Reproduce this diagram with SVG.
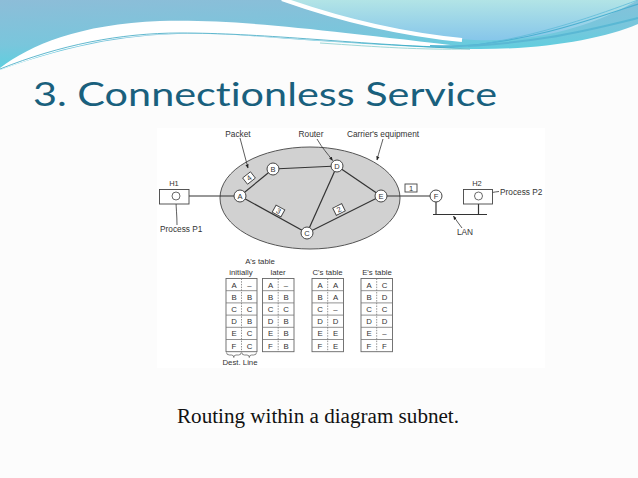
<svg xmlns="http://www.w3.org/2000/svg" width="638" height="478" viewBox="0 0 638 478">
<defs>
<linearGradient id="gBlue" x1="0" y1="0" x2="0.3" y2="1">
<stop offset="0" stop-color="#8dbdd8"/>
<stop offset="0.6" stop-color="#79c6dc"/>
<stop offset="1" stop-color="#55d2e0"/>
</linearGradient>
<linearGradient id="gLight" x1="0" y1="0" x2="0" y2="1">
<stop offset="0" stop-color="#b2e4e6"/>
<stop offset="1" stop-color="#86c6ea"/>
</linearGradient>
<marker id="ah" viewBox="0 0 10 10" refX="9" refY="5" markerWidth="5" markerHeight="5" orient="auto">
<path d="M0,1 L10,5 L0,9 Z" fill="#222"/>
</marker>
<style>
.t{font-family:"Liberation Sans",Arial,sans-serif;font-size:8.3px;fill:#333}
.n{font-family:"Liberation Sans",Arial,sans-serif;font-size:7.5px;fill:#333;text-anchor:middle}
.c{font-family:"Liberation Sans",Arial,sans-serif;font-size:7.8px;fill:#333;text-anchor:middle}
.ln{stroke:#333;stroke-width:1.2;fill:none}
.nd{fill:#fff;stroke:#444;stroke-width:1}
.pk{fill:#fff;stroke:#444;stroke-width:0.9}
.ptr{stroke:#333;stroke-width:0.8;fill:none;marker-end:url(#ah)}
.tb{fill:#fff;stroke:#666;stroke-width:0.9}
.rl{stroke:#777;stroke-width:0.8}
.dl{stroke:#777;stroke-width:0.8;stroke-dasharray:1.5 1.2}
</style>
</defs>
<rect x="0" y="0" width="638" height="478" fill="#fcfcfc"/>
<g id="header">
<path d="M0,0 L638,0 L638,24 C600,40 540,50 470,49 C400,47 330,42 250,36 C170,30 100,34 0,70 Z" fill="url(#gBlue)"/>
<path d="M0,68 C30,45 80,24 160,21 C240,19 320,30 470,47 C380,46 300,38 220,34 C140,31 80,40 0,70 Z" fill="#ffffff"/>
<path d="M0,69 C60,45 120,33 180,33 C260,33 340,43 470,49" fill="none" stroke="#3aa6c2" stroke-width="0.8"/>
<path d="M320,43 C380,47 420,50 470,49" fill="none" stroke="#9fd8d8" stroke-width="1"/>
<path d="M283,0 C330,16 390,33 460,39 C540,46 600,22 638,0 Z" fill="url(#gLight)"/>
<path d="M282,-1 C330,16 390,33 462,40" fill="none" stroke="#ffffff" stroke-width="4"/>
<path d="M450,47 C530,42 590,20 638,4" fill="none" stroke="#4cb0d0" stroke-width="1.2"/>
<path d="M470,46 C540,36 600,14 638,0" fill="none" stroke="#5ebbd8" stroke-width="0.8"/>
<path d="M430,46 C520,48 590,30 638,18" fill="none" stroke="#5ab8d4" stroke-width="2"/>
</g>
<g id="title">
<text x="33" y="106" font-family="Lato,'Open Sans','Liberation Sans',sans-serif" font-size="33" fill="#19607d" style="font-variant-ligatures:none" textLength="464" lengthAdjust="spacingAndGlyphs">3.  Connectionless Service</text>
</g>
<rect x="157" y="128" width="388" height="240" fill="#ffffff"/>
<g id="subnet">
<ellipse cx="310" cy="198" rx="90" ry="51" fill="#d1d1d1" stroke="#555" stroke-width="1"/>
</g>
<g id="connectors">
<line class="ln" x1="189" y1="196" x2="234" y2="196"/>
<line class="ln" x1="240" y1="196" x2="273" y2="169"/>
<line class="ln" x1="273" y1="169" x2="337" y2="166"/>
<line class="ln" x1="240" y1="196" x2="307" y2="233"/>
<line class="ln" x1="337" y1="166" x2="307" y2="233"/>
<line class="ln" x1="337" y1="166" x2="381" y2="196"/>
<line class="ln" x1="307" y1="233" x2="381" y2="196"/>
<line class="ln" x1="381" y1="196" x2="436" y2="196"/>
<line class="ln" x1="433" y1="214.5" x2="487" y2="214.5"/>
<line class="ln" x1="436" y1="196" x2="436" y2="214.5"/>
<line class="ln" x1="478.5" y1="204" x2="478.5" y2="214.5"/>
<path class="ptr" d="M240,138 C243,148 245,158 248,168"/>
<path class="ptr" d="M317,139 C322,148 328,154 332.5,160.5"/>
<path class="ptr" d="M383,139 C381,146 379,152 377,160"/>
<path class="ptr" d="M177,225 C177,215 176,208 176,200.5"/>
<path class="ptr" d="M499,191.5 C494,192 489,193 483.5,194.5"/>
<path class="ptr" d="M462,228 C459,224 456,220 453.5,216"/>
</g>
<g id="H1">
<rect x="159.5" y="189.5" width="29.5" height="14.5" fill="#fff" stroke="#444" stroke-width="0.9"/>
<circle cx="176" cy="196" r="4" fill="#fff" stroke="#444" stroke-width="0.8"/>
<text class="n" x="174" y="186">H1</text>
</g>
<g id="H2">
<rect x="463.5" y="189.5" width="29" height="14.5" fill="#fff" stroke="#444" stroke-width="0.9"/>
<circle cx="478.5" cy="196" r="4" fill="#fff" stroke="#444" stroke-width="0.8"/>
<text class="n" x="477" y="186">H2</text>
</g>
<g id="A"><circle class="nd" cx="240" cy="196" r="6"/><text class="n" x="240" y="198.7">A</text></g>
<g id="B"><circle class="nd" cx="273" cy="169" r="6"/><text class="n" x="273" y="171.7">B</text></g>
<g id="C"><circle class="nd" cx="307" cy="233" r="6"/><text class="n" x="307" y="235.7">C</text></g>
<g id="D"><circle class="nd" cx="337" cy="166" r="6"/><text class="n" x="337" y="168.7">D</text></g>
<g id="E"><circle class="nd" cx="381" cy="196" r="6"/><text class="n" x="381" y="198.7">E</text></g>
<g id="F"><circle class="nd" cx="436" cy="196" r="6"/><text class="n" x="436" y="198.7">F</text></g>
<g id="packet4" transform="translate(249,178) rotate(-38)"><rect class="pk" x="-5" y="-4" width="10" height="8"/><text class="n" x="0" y="2.5" font-size="6.5">4</text></g>
<g id="packet3" transform="translate(278.5,211) rotate(29)"><rect class="pk" x="-5" y="-4" width="10" height="8"/><text class="n" x="0" y="2.5" font-size="6.5">3</text></g>
<g id="packet2" transform="translate(339,209.5) rotate(-26.6)"><rect class="pk" x="-5" y="-4" width="10" height="8"/><text class="n" x="0" y="2.5" font-size="6.5">2</text></g>
<g id="packet1"><rect class="pk" x="405" y="184" width="12" height="8"/><text class="n" x="411" y="190.5" font-size="6.5">1</text></g>
<g id="labels">
<text class="t" x="238" y="137" text-anchor="middle">Packet</text>
<text class="t" x="311" y="137" text-anchor="middle">Router</text>
<text class="t" x="383" y="137" text-anchor="middle">Carrier's equipment</text>
<text class="t" x="160" y="231.5">Process P1</text>
<text class="t" x="500" y="194.5">Process P2</text>
<text class="t" x="465" y="235" text-anchor="middle">LAN</text>
</g>
<g id="tables">
<text class="c" x="260" y="264">A's table</text>
<text class="c" x="241" y="275">initially</text>
<text class="c" x="278" y="275">later</text>
<text class="c" x="327.5" y="275">C's table</text>
<text class="c" x="377" y="275">E's table</text>
<g id="tableAinit">
<rect class="tb" x="226" y="278.5" width="31" height="73.2"/>
<line class="rl" x1="226" y1="290.7" x2="257" y2="290.7"/><line class="rl" x1="226" y1="302.9" x2="257" y2="302.9"/><line class="rl" x1="226" y1="315.1" x2="257" y2="315.1"/><line class="rl" x1="226" y1="327.3" x2="257" y2="327.3"/><line class="rl" x1="226" y1="339.5" x2="257" y2="339.5"/>
<line class="dl" x1="241.5" y1="278.5" x2="241.5" y2="351.7"/>
<text class="c" x="234" y="287.5">A</text><text class="c" x="249.5" y="287.5">–</text>
<text class="c" x="234" y="299.7">B</text><text class="c" x="249.5" y="299.7">B</text>
<text class="c" x="234" y="311.9">C</text><text class="c" x="249.5" y="311.9">C</text>
<text class="c" x="234" y="324.1">D</text><text class="c" x="249.5" y="324.1">B</text>
<text class="c" x="234" y="336.3">E</text><text class="c" x="249.5" y="336.3">C</text>
<text class="c" x="234" y="348.5">F</text><text class="c" x="249.5" y="348.5">C</text>
</g>
<g id="tableAlater">
<rect class="tb" x="262.5" y="278.5" width="31.5" height="73.2"/>
<line class="rl" x1="262.5" y1="290.7" x2="294" y2="290.7"/><line class="rl" x1="262.5" y1="302.9" x2="294" y2="302.9"/><line class="rl" x1="262.5" y1="315.1" x2="294" y2="315.1"/><line class="rl" x1="262.5" y1="327.3" x2="294" y2="327.3"/><line class="rl" x1="262.5" y1="339.5" x2="294" y2="339.5"/>
<line class="dl" x1="278.2" y1="278.5" x2="278.2" y2="351.7"/>
<text class="c" x="270.5" y="287.5">A</text><text class="c" x="286" y="287.5">–</text>
<text class="c" x="270.5" y="299.7">B</text><text class="c" x="286" y="299.7">B</text>
<text class="c" x="270.5" y="311.9">C</text><text class="c" x="286" y="311.9">C</text>
<text class="c" x="270.5" y="324.1">D</text><text class="c" x="286" y="324.1">B</text>
<text class="c" x="270.5" y="336.3">E</text><text class="c" x="286" y="336.3">B</text>
<text class="c" x="270.5" y="348.5">F</text><text class="c" x="286" y="348.5">B</text>
</g>
<g id="tableC">
<rect class="tb" x="312" y="278.5" width="31.5" height="73.2"/>
<line class="rl" x1="312" y1="290.7" x2="343.5" y2="290.7"/><line class="rl" x1="312" y1="302.9" x2="343.5" y2="302.9"/><line class="rl" x1="312" y1="315.1" x2="343.5" y2="315.1"/><line class="rl" x1="312" y1="327.3" x2="343.5" y2="327.3"/><line class="rl" x1="312" y1="339.5" x2="343.5" y2="339.5"/>
<line class="dl" x1="327.7" y1="278.5" x2="327.7" y2="351.7"/>
<text class="c" x="320" y="287.5">A</text><text class="c" x="335.5" y="287.5">A</text>
<text class="c" x="320" y="299.7">B</text><text class="c" x="335.5" y="299.7">A</text>
<text class="c" x="320" y="311.9">C</text><text class="c" x="335.5" y="311.9">–</text>
<text class="c" x="320" y="324.1">D</text><text class="c" x="335.5" y="324.1">D</text>
<text class="c" x="320" y="336.3">E</text><text class="c" x="335.5" y="336.3">E</text>
<text class="c" x="320" y="348.5">F</text><text class="c" x="335.5" y="348.5">E</text>
</g>
<g id="tableE">
<rect class="tb" x="361" y="278.5" width="31.5" height="73.2"/>
<line class="rl" x1="361" y1="290.7" x2="392.5" y2="290.7"/><line class="rl" x1="361" y1="302.9" x2="392.5" y2="302.9"/><line class="rl" x1="361" y1="315.1" x2="392.5" y2="315.1"/><line class="rl" x1="361" y1="327.3" x2="392.5" y2="327.3"/><line class="rl" x1="361" y1="339.5" x2="392.5" y2="339.5"/>
<line class="dl" x1="376.7" y1="278.5" x2="376.7" y2="351.7"/>
<text class="c" x="369" y="287.5">A</text><text class="c" x="384.5" y="287.5">C</text>
<text class="c" x="369" y="299.7">B</text><text class="c" x="384.5" y="299.7">D</text>
<text class="c" x="369" y="311.9">C</text><text class="c" x="384.5" y="311.9">C</text>
<text class="c" x="369" y="324.1">D</text><text class="c" x="384.5" y="324.1">D</text>
<text class="c" x="369" y="336.3">E</text><text class="c" x="384.5" y="336.3">–</text>
<text class="c" x="369" y="348.5">F</text><text class="c" x="384.5" y="348.5">F</text>
</g>
<path d="M226.5,352.5 Q226.5,355 229.5,355 L231.5,355 Q233.8,355 233.8,357.5 Q233.8,355 236,355 L238.5,355 Q241.2,355 241.2,352.5" fill="none" stroke="#555" stroke-width="0.7"/>
<path d="M241.8,352.5 Q241.8,355 244.5,355 L247,355 Q249.3,355 249.3,357.5 Q249.3,355 251.5,355 L253.5,355 Q256.5,355 256.5,352.5" fill="none" stroke="#555" stroke-width="0.7"/>
<text class="c" x="240" y="365">Dest. Line</text>
</g>
<g id="caption">
<text x="177" y="423" font-family="'Liberation Serif','Times New Roman',serif" font-size="20" fill="#111" textLength="282" lengthAdjust="spacingAndGlyphs">Routing within a diagram subnet.</text>
</g>
</svg>
